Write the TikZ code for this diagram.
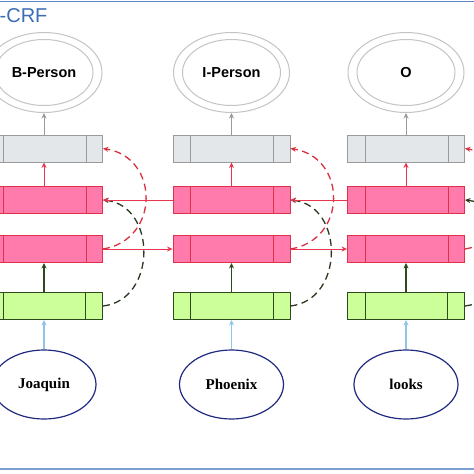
\documentclass[tikz,border=0pt]{standalone}
\usepackage{fontspec}
\setmainfont{Liberation Serif}
\setsansfont{Liberation Sans}
\usetikzlibrary{arrows.meta,shapes.geometric}
\definecolor{frameblue}{HTML}{5B86C5}
\definecolor{titleblue}{HTML}{3D6DB5}
\definecolor{ellgray}{HTML}{C4C4C4}
\definecolor{arrgray}{HTML}{9A9A9A}
\definecolor{boxgrayfill}{HTML}{E4E7E9}
\definecolor{boxgraydraw}{HTML}{9A9A9A}
\definecolor{pinkfill}{HTML}{FF7BAC}
\definecolor{pinkdraw}{HTML}{E0304A}
\definecolor{redarr}{HTML}{E8344E}
\definecolor{reddashc}{HTML}{D9303F}
\definecolor{greenfill}{HTML}{CCFF99}
\definecolor{greendraw}{HTML}{2E4A1A}
\definecolor{greendashc}{HTML}{2A3A20}
\definecolor{lightbluearr}{HTML}{8EC5E8}
\definecolor{navy}{HTML}{1F2A80}
\tikzset{
  tip/.style={-{Stealth[length=5.5pt,width=5pt]}},
  cellbox/.style={rectangle, minimum width=117pt, minimum height=27pt, inner sep=0pt, line width=0.9pt},
  graybox/.style={cellbox, draw=boxgraydraw, fill=boxgrayfill},
  pinkbox/.style={cellbox, draw=pinkdraw, fill=pinkfill},
  greenbox/.style={cellbox, draw=greendraw, fill=greenfill},
  tagouter/.style={ellipse, draw=ellgray, line width=1pt, minimum width=116pt, minimum height=80pt, inner sep=0pt},
  taginner/.style={ellipse, draw=ellgray, line width=1pt, minimum width=98pt, minimum height=66pt, inner sep=0pt, font=\sffamily\bfseries\fontsize{14.5}{15}\selectfont},
  wordell/.style={ellipse, draw=navy, line width=1.2pt, fill=white, minimum width=104pt, minimum height=69pt, inner sep=0pt, font=\rmfamily\bfseries\fontsize{15}{16}\selectfont},
  grayarr/.style={tip, draw=arrgray, line width=1pt},
  redline/.style={tip, draw=redarr, line width=1pt},
  greenarr/.style={tip, draw=greendraw, line width=1.4pt},
  bluearr/.style={tip, draw=lightbluearr, line width=1.1pt},
  reddash/.style={tip, draw=reddashc, line width=1.3pt, dash pattern=on 7pt off 4.5pt},
  greendash/.style={tip, draw=greendashc, line width=1.3pt, dash pattern=on 7pt off 4.5pt},
}
\begin{document}
\begin{tikzpicture}[x=1pt,y=-1pt]
\useasboundingbox (0,0) rectangle (474,474);
\clip (0,0) rectangle (474,474);
\fill[white] (0,0) rectangle (474,474);
% frame
\draw[frameblue, line width=1.5pt] (-5,1.5) -- (480,1.5);
\draw[frameblue!80, line width=2pt] (-5,469) -- (480,469);
\node[anchor=west, inner sep=0pt, text=titleblue, font=\sffamily\fontsize{20}{21}\selectfont] (title) at (-0.5,15.5) {-CRF};

\foreach \c/\x/\tag/\word in {1/44/B-Person/Joaquin, 2/231.5/I-Person/Phoenix, 3/406/O/looks}{
  \node[tagouter] (to\c) at (\x,72.5) {};
  \node[taginner] (ti\c) at (\x,72.5) {\tag};
  \node[graybox] (g\c) at (\x,148.5) {};
  \node[pinkbox] (pu\c) at (\x,200) {};
  \node[pinkbox] (pl\c) at (\x,249) {};
  \node[greenbox] (gr\c) at (\x,306) {};
  \node[wordell] (w\c) at (\x,384.5) {\word};
  \draw[boxgraydraw, line width=0.9pt] ([xshift=18pt]g\c.north west) -- ([xshift=18pt]g\c.south west)
       ([xshift=-17pt]g\c.north east) -- ([xshift=-17pt]g\c.south east);
  \draw[pinkdraw, line width=0.9pt] ([xshift=18pt]pu\c.north west) -- ([xshift=18pt]pu\c.south west)
       ([xshift=-17pt]pu\c.north east) -- ([xshift=-17pt]pu\c.south east);
  \draw[pinkdraw, line width=0.9pt] ([xshift=18pt]pl\c.north west) -- ([xshift=18pt]pl\c.south west)
       ([xshift=-17pt]pl\c.north east) -- ([xshift=-17pt]pl\c.south east);
  \draw[greendraw, line width=1pt] ([xshift=18pt]gr\c.north west) -- ([xshift=18pt]gr\c.south west)
       ([xshift=-17pt]gr\c.north east) -- ([xshift=-17pt]gr\c.south east);
  \draw[grayarr] (g\c.north) -- (to\c.south);
  \draw[redline] (pu\c.north) -- (g\c.south);
  \draw[greenarr] (gr\c.north) -- (pl\c.south);
  \draw[bluearr] (w\c.north) -- (gr\c.south);
  \draw[reddash] (pl\c.east) .. controls +(57,-9) and +(57,9) .. (g\c.east);
  \draw[greendash] (gr\c.east) .. controls +(54,-6) and +(54,6) .. (pu\c.east);
}
\draw[redline] (pl1.east) -- (pl2.west);
\draw[redline] (pl2.east) -- (pl3.west);
\draw[redline] (pu2.west) -- (pu1.east);
\draw[redline] (pu3.west) -- (pu2.east);
\end{tikzpicture}
\end{document}
